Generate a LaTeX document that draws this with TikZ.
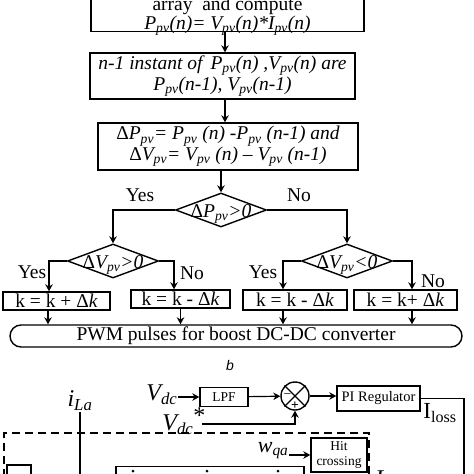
\documentclass[tikz,border=0pt]{standalone}
\usepackage{fontspec}
\setmainfont{Liberation Serif}
\newfontfamily\capfont{Liberation Sans}
\usetikzlibrary{shapes,arrows,arrows.meta,positioning,calc}

\newcommand{\pv}{\textsubscript{pv}}
\newcommand{\dc}{\textsubscript{dc}}
\newcommand{\dtext}[1]{\makebox[0pt]{\raisebox{-.36em}[0pt][0pt]{#1}}}

\begin{document}
\begin{tikzpicture}[x=1pt, y=-1pt, ->, >={Stealth[length=7pt,width=7.5pt]}, line width=1.2pt]
\tikzstyle{every node}=[font=\fontsize{19.5}{17}\selectfont, inner sep=0pt]
\tikzstyle{block}=[draw, -, line width=1.4pt, align=center]
\tikzstyle{decision}=[draw, diamond, -, line width=1.4pt, minimum width=91pt, minimum height=34pt]
\tikzstyle{small}=[font=\fontsize{13.5}{15}\selectfont]
\tikzstyle{big}=[font=\fontsize{24}{24}\selectfont]
\useasboundingbox (0,0) rectangle (474,474);

% flowchart
\node[block, minimum width=273pt, minimum height=80pt, anchor=south] (sensebox) at (227.5,32) {};
\node[align=center] (sense) at (227.5,16.5) {array\ \ and compute\\ \itshape P\pv(n)= V\pv(n)*I\pv(n)};
\node[block, minimum width=265pt, minimum height=46pt] (prev) at (222.5,76)
  {\itshape n-1 instant of\, P\pv(n) ,V\pv(n) are\\ \itshape P\pv(n-1), V\pv(n-1)};
\node[block, minimum width=260pt, minimum height=47pt] (delta) at (228,146.5)
  {Δ\textit{P\pv= P\pv{} (n) -P\pv{} (n-1) and}\\ Δ\textit{V\pv= V\pv{} (n) – V\pv{} (n-1)}};
\node[decision] (dP)  at (221,210) {\dtext{Δ\textit{P\pv>0}}};
\node[decision] (dVp) at (113,261) {\dtext{Δ\textit{V\pv>0}}};
\node[decision] (dVn) at (347,261) {\dtext{Δ\textit{V\pv<0}}};
\node[block, minimum width=107pt, minimum height=18pt] (kA) at (56.5,301) {k = k + Δ\textit{k}};
\node[block, minimum width=99pt, minimum height=18pt] (kB) at (180.5,299) {k = k - Δ\textit{k}};
\node[block, minimum width=104pt, minimum height=20pt] (kC) at (295,300) {k = k - Δ\textit{k}};
\node[block, minimum width=103pt, minimum height=20pt] (kD) at (405.5,300) {k = k+ Δ\textit{k}};
\node[draw, -, line width=1.4pt, rounded corners=11pt, minimum width=452pt, minimum height=22pt] (pwm) at (236,336)
  {PWM pulses for boost DC-DC converter};

\node (yes1) at (140,195) {Yes};
\node (no1)  at (299,195) {No};
\node (yes2) at (32,272) {Yes};
\node (no2)  at (192,273) {No};
\node (yes3) at (263,272) {Yes};
\node (no3)  at (433,281) {No};

\path
([xshift=-2.5pt]sensebox.south) edge ([xshift=-2.5pt]sensebox.south |- prev.north)
([xshift=2.5pt]prev.south) edge ([xshift=2.5pt]prev.south |- delta.north)
(dP.north |- delta.south) edge (dP.north);

\draw (dP.west) -| (dVp.north);
\draw (dP.east) -| (dVn.north);
\draw (dVp.west) -| ([xshift=-7.5pt]kA.north);
\draw (dVp.east) -| ([xshift=-6.5pt]kB.north);
\draw (dVn.west) -| ([xshift=-12pt]kC.north);
\draw (dVn.east) -| ([xshift=6.5pt]kD.north);

\draw ([xshift=-8.5pt]kA.south) -- ([xshift=-8.5pt]kA.south |- pwm.north);
\draw (kB.south) -- (kB.south |- pwm.north);
\draw ([xshift=-12pt]kC.south) -- ([xshift=-12pt]kC.south |- pwm.north);
\draw ([xshift=6.5pt]kD.south) -- ([xshift=6.5pt]kD.south |- pwm.north);

\node[font=\fontsize{14}{14}\capfont\itshape] (cap) at (230,365) {b};

% control loop
\node[big, anchor=east] (vdc) at (178,395) {\itshape V\dc};
\node[block, small, minimum width=48pt, minimum height=19pt] (lpf) at (224,397) {LPF};
\node[draw, circle, -, line width=1.4pt, minimum size=28pt] (sum) at (295,396) {};
\draw[-, line width=1.1pt] (sum.north west) -- (sum.south east);
\draw[-, line width=1.1pt] (sum.north east) -- (sum.south west);
\node[small] (minus) at (287.5,396) {−};
\node[small, font=\fontsize{13.5}{15}\selectfont\bfseries] (plus) at (295,405.5) {+};
\node[block, font=\fontsize{14.5}{15}\selectfont, minimum width=83pt, minimum height=25pt] (pi) at (378.5,398.5) {PI Regulator};
\node[big, anchor=east] (vdcref) at (206,421) {\itshape V\dc\raisebox{.3em}{\upshape *}};
\node[big, font=\fontsize{23}{23}\selectfont] (iloss) at (440,413) {I\textsubscript{loss}};
\node[big] (ila) at (80,401) {\itshape i\textsubscript{La}};

\path
(vdc.east |- lpf.west) edge (lpf.west)
(lpf) edge (sum)
(sum) edge (pi.west |- sum.east);
\draw (202,424) -| (sum.south);
\draw[-] (pi.east) -| (464,490);
\draw[-] (ila.south) -- (ila.south |- 0,490);

\draw[-, line width=1.5pt, dash pattern=on 8pt off 5pt] (4,490) |- (369,433) -- (369,490);

\node[big, font=\fontsize{22}{22}\selectfont, anchor=east] (wqa) at (289,451) {\itshape w\textsubscript{qa}};
\node[block, small, minimum width=56pt, minimum height=34pt] (hit) at (339,455) {Hit\\crossing};
\path (wqa.east |- hit.west) edge (hit.west);
\node[big, anchor=base] (idq) at (379,486) {\itshape I};

\node[block, minimum width=188pt, minimum height=40pt, anchor=north] (inv) at (210,466) {};
\foreach \dx in {133,207,278} \fill (\dx,471) circle (1.5pt);
\node[block, line width=1.8pt, minimum width=24pt, minimum height=20pt, anchor=north] (hbox) at (19,464) {};

\end{tikzpicture}
\end{document}
